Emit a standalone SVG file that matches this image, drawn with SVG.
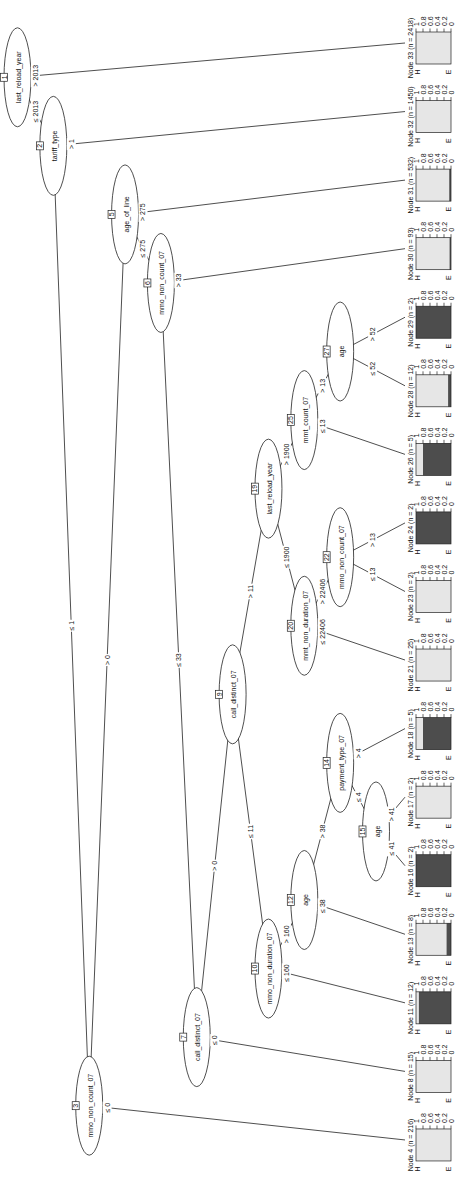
<svg xmlns="http://www.w3.org/2000/svg" xmlns:xlink="http://www.w3.org/1999/xlink" width="474" height="1185" viewBox="0 0 474 1185">
<style>
.t{font-family:"Liberation Sans",Arial,sans-serif;font-size:7px;fill:#111}
.tk{font-family:"Liberation Sans",Arial,sans-serif;font-size:7px;fill:#111}
.e{fill:#fff;stroke:#222;stroke-width:0.8}
.c line{stroke:#222;stroke-width:0.8}
.lb{fill:#fff}
.bx{fill:#fff;stroke:#222;stroke-width:0.7}
.lt{fill:#e6e6e6}
.dk{fill:#4d4d4d}
.fr{fill:none;stroke:#222;stroke-width:0.7}
</style>
<defs>
<g id="ax">
<path d="M416,-16v-3.5M423,-16v-3.5M430,-16v-3.5M437,-16v-3.5M444,-16v-3.5M451,-16v-3.5" stroke="#222" stroke-width="0.7" fill="none"/>
<text class="tk" transform="translate(418.6,-22) rotate(-90)">1</text>
<text class="tk" transform="translate(425.6,-22) rotate(-90)">0.8</text>
<text class="tk" transform="translate(432.6,-22) rotate(-90)">0.6</text>
<text class="tk" transform="translate(439.6,-22) rotate(-90)">0.4</text>
<text class="tk" transform="translate(446.6,-22) rotate(-90)">0.2</text>
<text class="tk" transform="translate(453.6,-22) rotate(-90)">0</text>
<text class="tk" transform="translate(419.5,24) rotate(-90)" text-anchor="middle">H</text>
<text class="tk" transform="translate(450.5,24) rotate(-90)" text-anchor="middle">E</text>
</g>
</defs>
<rect width="474" height="1185" fill="#fff"/>
<g id="connectors" class="c">
<line x1="17.5" y1="77.28" x2="53.35" y2="145.84"/>
<line x1="17.5" y1="77.28" x2="405" y2="43"/>
<line x1="53.35" y1="145.84" x2="89.2" y2="1105.68"/>
<line x1="53.35" y1="145.84" x2="405" y2="111.56"/>
<line x1="89.2" y1="1105.68" x2="405" y2="1139.96"/>
<line x1="89.2" y1="1105.68" x2="125.05" y2="214.4"/>
<line x1="125.05" y1="214.4" x2="160.9" y2="282.96"/>
<line x1="125.05" y1="214.4" x2="405" y2="180.12"/>
<line x1="160.9" y1="282.96" x2="196.75" y2="1037.12"/>
<line x1="160.9" y1="282.96" x2="405" y2="248.68"/>
<line x1="196.75" y1="1037.12" x2="405" y2="1071.4"/>
<line x1="196.75" y1="1037.12" x2="232.6" y2="694.32"/>
<line x1="232.6" y1="694.32" x2="268.45" y2="968.56"/>
<line x1="232.6" y1="694.32" x2="268.45" y2="488.64"/>
<line x1="268.45" y1="968.56" x2="405" y2="1002.84"/>
<line x1="268.45" y1="968.56" x2="304.3" y2="900"/>
<line x1="304.3" y1="900" x2="405" y2="934.28"/>
<line x1="304.3" y1="900" x2="340.15" y2="762.88"/>
<line x1="340.15" y1="762.88" x2="376" y2="831.44"/>
<line x1="340.15" y1="762.88" x2="405" y2="728.6"/>
<line x1="376" y1="831.44" x2="405" y2="865.72"/>
<line x1="376" y1="831.44" x2="405" y2="797.16"/>
<line x1="268.45" y1="488.64" x2="304.3" y2="625.76"/>
<line x1="268.45" y1="488.64" x2="304.3" y2="420.08"/>
<line x1="304.3" y1="625.76" x2="405" y2="660.04"/>
<line x1="304.3" y1="625.76" x2="340.15" y2="557.2"/>
<line x1="340.15" y1="557.2" x2="405" y2="591.48"/>
<line x1="340.15" y1="557.2" x2="405" y2="522.92"/>
<line x1="304.3" y1="420.08" x2="405" y2="454.36"/>
<line x1="304.3" y1="420.08" x2="340.15" y2="351.52"/>
<line x1="340.15" y1="351.52" x2="405" y2="385.8"/>
<line x1="340.15" y1="351.52" x2="405" y2="317.24"/>
</g>
<g id="n1"><ellipse class="e" cx="17.5" cy="77.28" rx="13.5" ry="49.5"/><text class="t" transform="translate(21,77.28) rotate(-90)" text-anchor="middle">last_reload_year</text><rect class="bx" x="0.5" y="73.28" width="7" height="8"/><text class="t" transform="translate(6.5,77.28) rotate(-90)" text-anchor="middle">1</text></g>
<g id="n2"><ellipse class="e" cx="53.35" cy="145.84" rx="13.5" ry="49.5"/><text class="t" transform="translate(56.85,145.84) rotate(-90)" text-anchor="middle">tariff_type</text><rect class="bx" x="36.35" y="141.84" width="7" height="8"/><text class="t" transform="translate(42.35,145.84) rotate(-90)" text-anchor="middle">2</text></g>
<g id="n3"><ellipse class="e" cx="89.2" cy="1105.68" rx="13.5" ry="49.5"/><text class="t" transform="translate(92.7,1105.68) rotate(-90)" text-anchor="middle">mmo_non_count_07</text><rect class="bx" x="72.2" y="1101.68" width="7" height="8"/><text class="t" transform="translate(78.2,1105.68) rotate(-90)" text-anchor="middle">3</text></g>
<g id="n5"><ellipse class="e" cx="125.05" cy="214.4" rx="13.5" ry="49.5"/><text class="t" transform="translate(128.55,214.4) rotate(-90)" text-anchor="middle">age_of_line</text><rect class="bx" x="108.05" y="210.4" width="7" height="8"/><text class="t" transform="translate(114.05,214.4) rotate(-90)" text-anchor="middle">5</text></g>
<g id="n6"><ellipse class="e" cx="160.9" cy="282.96" rx="13.5" ry="49.5"/><text class="t" transform="translate(164.4,282.96) rotate(-90)" text-anchor="middle">mmo_non_count_07</text><rect class="bx" x="143.9" y="278.96" width="7" height="8"/><text class="t" transform="translate(149.9,282.96) rotate(-90)" text-anchor="middle">6</text></g>
<g id="n7"><ellipse class="e" cx="196.75" cy="1037.12" rx="13.5" ry="49.5"/><text class="t" transform="translate(200.25,1037.12) rotate(-90)" text-anchor="middle">call_distinct_07</text><rect class="bx" x="179.75" y="1033.12" width="7" height="8"/><text class="t" transform="translate(185.75,1037.12) rotate(-90)" text-anchor="middle">7</text></g>
<g id="n9"><ellipse class="e" cx="232.6" cy="694.32" rx="13.5" ry="49.5"/><text class="t" transform="translate(236.1,694.32) rotate(-90)" text-anchor="middle">call_distinct_07</text><rect class="bx" x="215.6" y="690.32" width="7" height="8"/><text class="t" transform="translate(221.6,694.32) rotate(-90)" text-anchor="middle">9</text></g>
<g id="n10"><ellipse class="e" cx="268.45" cy="968.56" rx="13.5" ry="49.5"/><text class="t" transform="translate(271.95,968.56) rotate(-90)" text-anchor="middle">mmo_non_duration_07</text><rect class="bx" x="251.45" y="963.06" width="7" height="11"/><text class="t" transform="translate(257.45,968.56) rotate(-90)" text-anchor="middle">10</text></g>
<g id="n12"><ellipse class="e" cx="304.3" cy="900" rx="13.5" ry="49.5"/><text class="t" transform="translate(307.8,900) rotate(-90)" text-anchor="middle">age</text><rect class="bx" x="287.3" y="894.5" width="7" height="11"/><text class="t" transform="translate(293.3,900) rotate(-90)" text-anchor="middle">12</text></g>
<g id="n14"><ellipse class="e" cx="340.15" cy="762.88" rx="13.5" ry="49.5"/><text class="t" transform="translate(343.65,762.88) rotate(-90)" text-anchor="middle">payment_type_07</text><rect class="bx" x="323.15" y="757.38" width="7" height="11"/><text class="t" transform="translate(329.15,762.88) rotate(-90)" text-anchor="middle">14</text></g>
<g id="n15"><ellipse class="e" cx="376" cy="831.44" rx="13.5" ry="49.5"/><text class="t" transform="translate(379.5,831.44) rotate(-90)" text-anchor="middle">age</text><rect class="bx" x="359" y="825.94" width="7" height="11"/><text class="t" transform="translate(365,831.44) rotate(-90)" text-anchor="middle">15</text></g>
<g id="n19"><ellipse class="e" cx="268.45" cy="488.64" rx="13.5" ry="49.5"/><text class="t" transform="translate(271.95,488.64) rotate(-90)" text-anchor="middle">last_reload_year</text><rect class="bx" x="251.45" y="483.14" width="7" height="11"/><text class="t" transform="translate(257.45,488.64) rotate(-90)" text-anchor="middle">19</text></g>
<g id="n20"><ellipse class="e" cx="304.3" cy="625.76" rx="13.5" ry="49.5"/><text class="t" transform="translate(307.8,625.76) rotate(-90)" text-anchor="middle">mmt_non_duration_07</text><rect class="bx" x="287.3" y="620.26" width="7" height="11"/><text class="t" transform="translate(293.3,625.76) rotate(-90)" text-anchor="middle">20</text></g>
<g id="n22"><ellipse class="e" cx="340.15" cy="557.2" rx="13.5" ry="49.5"/><text class="t" transform="translate(343.65,557.2) rotate(-90)" text-anchor="middle">mmo_non_count_07</text><rect class="bx" x="323.15" y="551.7" width="7" height="11"/><text class="t" transform="translate(329.15,557.2) rotate(-90)" text-anchor="middle">22</text></g>
<g id="n25"><ellipse class="e" cx="304.3" cy="420.08" rx="13.5" ry="49.5"/><text class="t" transform="translate(307.8,420.08) rotate(-90)" text-anchor="middle">mmt_count_07</text><rect class="bx" x="287.3" y="414.58" width="7" height="11"/><text class="t" transform="translate(293.3,420.08) rotate(-90)" text-anchor="middle">25</text></g>
<g id="n27"><ellipse class="e" cx="340.15" cy="351.52" rx="13.5" ry="49.5"/><text class="t" transform="translate(343.65,351.52) rotate(-90)" text-anchor="middle">age</text><rect class="bx" x="323.15" y="346.02" width="7" height="11"/><text class="t" transform="translate(329.15,351.52) rotate(-90)" text-anchor="middle">27</text></g>
<g id="edge-labels">
<g transform="translate(35.4,111.56) rotate(-90)"><rect class="lb" x="-11.5" y="-4.5" width="23" height="9"/><text class="t" dy="0.35em" text-anchor="middle">≤ 2013</text></g>
<g transform="translate(35.4,75.7) rotate(-90)"><rect class="lb" x="-11.5" y="-4.5" width="23" height="9"/><text class="t" dy="0.35em" text-anchor="middle">&gt; 2013</text></g>
<g transform="translate(71.3,625.76) rotate(-90)"><rect class="lb" x="-6" y="-4.5" width="12" height="9"/><text class="t" dy="0.35em" text-anchor="middle">≤ 1</text></g>
<g transform="translate(71.3,144.1) rotate(-90)"><rect class="lb" x="-6" y="-4.5" width="12" height="9"/><text class="t" dy="0.35em" text-anchor="middle">&gt; 1</text></g>
<g transform="translate(107.1,1107.6) rotate(-90)"><rect class="lb" x="-6" y="-4.5" width="12" height="9"/><text class="t" dy="0.35em" text-anchor="middle">≤ 0</text></g>
<g transform="translate(107.1,660.04) rotate(-90)"><rect class="lb" x="-6" y="-4.5" width="12" height="9"/><text class="t" dy="0.35em" text-anchor="middle">&gt; 0</text></g>
<g transform="translate(143,248.68) rotate(-90)"><rect class="lb" x="-9.75" y="-4.5" width="19.5" height="9"/><text class="t" dy="0.35em" text-anchor="middle">≤ 275</text></g>
<g transform="translate(143,212.2) rotate(-90)"><rect class="lb" x="-9.75" y="-4.5" width="19.5" height="9"/><text class="t" dy="0.35em" text-anchor="middle">&gt; 275</text></g>
<g transform="translate(178.8,660.04) rotate(-90)"><rect class="lb" x="-7.8" y="-4.5" width="15.6" height="9"/><text class="t" dy="0.35em" text-anchor="middle">≤ 33</text></g>
<g transform="translate(178.8,280.45) rotate(-90)"><rect class="lb" x="-7.8" y="-4.5" width="15.6" height="9"/><text class="t" dy="0.35em" text-anchor="middle">&gt; 33</text></g>
<g transform="translate(214.7,1040.1) rotate(-90)"><rect class="lb" x="-6" y="-4.5" width="12" height="9"/><text class="t" dy="0.35em" text-anchor="middle">≤ 0</text></g>
<g transform="translate(214.7,865.72) rotate(-90)"><rect class="lb" x="-6" y="-4.5" width="12" height="9"/><text class="t" dy="0.35em" text-anchor="middle">&gt; 0</text></g>
<g transform="translate(250.5,831.44) rotate(-90)"><rect class="lb" x="-7.8" y="-4.5" width="15.6" height="9"/><text class="t" dy="0.35em" text-anchor="middle">≤ 11</text></g>
<g transform="translate(250.5,591.48) rotate(-90)"><rect class="lb" x="-7.8" y="-4.5" width="15.6" height="9"/><text class="t" dy="0.35em" text-anchor="middle">&gt; 11</text></g>
<g transform="translate(286.4,973.07) rotate(-90)"><rect class="lb" x="-9.75" y="-4.5" width="19.5" height="9"/><text class="t" dy="0.35em" text-anchor="middle">≤ 160</text></g>
<g transform="translate(286.4,934.28) rotate(-90)"><rect class="lb" x="-9.75" y="-4.5" width="19.5" height="9"/><text class="t" dy="0.35em" text-anchor="middle">&gt; 160</text></g>
<g transform="translate(286.4,557.2) rotate(-90)"><rect class="lb" x="-11.5" y="-4.5" width="23" height="9"/><text class="t" dy="0.35em" text-anchor="middle">≤ 1900</text></g>
<g transform="translate(286.4,454.36) rotate(-90)"><rect class="lb" x="-11.5" y="-4.5" width="23" height="9"/><text class="t" dy="0.35em" text-anchor="middle">&gt; 1900</text></g>
<g transform="translate(322.2,906.1) rotate(-90)"><rect class="lb" x="-7.8" y="-4.5" width="15.6" height="9"/><text class="t" dy="0.35em" text-anchor="middle">≤ 38</text></g>
<g transform="translate(322.2,831.44) rotate(-90)"><rect class="lb" x="-7.8" y="-4.5" width="15.6" height="9"/><text class="t" dy="0.35em" text-anchor="middle">&gt; 38</text></g>
<g transform="translate(322.2,631.85) rotate(-90)"><rect class="lb" x="-13.65" y="-4.5" width="27.3" height="9"/><text class="t" dy="0.35em" text-anchor="middle">≤ 22406</text></g>
<g transform="translate(322.2,591.48) rotate(-90)"><rect class="lb" x="-13.65" y="-4.5" width="27.3" height="9"/><text class="t" dy="0.35em" text-anchor="middle">&gt; 22406</text></g>
<g transform="translate(322.2,426.17) rotate(-90)"><rect class="lb" x="-7.8" y="-4.5" width="15.6" height="9"/><text class="t" dy="0.35em" text-anchor="middle">≤ 13</text></g>
<g transform="translate(322.2,385.8) rotate(-90)"><rect class="lb" x="-7.8" y="-4.5" width="15.6" height="9"/><text class="t" dy="0.35em" text-anchor="middle">&gt; 13</text></g>
<g transform="translate(358.1,797.16) rotate(-90)"><rect class="lb" x="-6" y="-4.5" width="12" height="9"/><text class="t" dy="0.35em" text-anchor="middle">≤ 4</text></g>
<g transform="translate(358.1,753.4) rotate(-90)"><rect class="lb" x="-6" y="-4.5" width="12" height="9"/><text class="t" dy="0.35em" text-anchor="middle">&gt; 4</text></g>
<g transform="translate(372.6,574.34) rotate(-90)"><rect class="lb" x="-7.8" y="-4.5" width="15.6" height="9"/><text class="t" dy="0.35em" text-anchor="middle">≤ 13</text></g>
<g transform="translate(372.6,540.06) rotate(-90)"><rect class="lb" x="-7.8" y="-4.5" width="15.6" height="9"/><text class="t" dy="0.35em" text-anchor="middle">&gt; 13</text></g>
<g transform="translate(372.6,368.66) rotate(-90)"><rect class="lb" x="-7.8" y="-4.5" width="15.6" height="9"/><text class="t" dy="0.35em" text-anchor="middle">≤ 52</text></g>
<g transform="translate(372.6,334.38) rotate(-90)"><rect class="lb" x="-7.8" y="-4.5" width="15.6" height="9"/><text class="t" dy="0.35em" text-anchor="middle">&gt; 52</text></g>
<g transform="translate(391.5,848.6) rotate(-90)"><rect class="lb" x="-7.8" y="-4.5" width="15.6" height="9"/><text class="t" dy="0.35em" text-anchor="middle">≤ 41</text></g>
<g transform="translate(391.5,814.3) rotate(-90)"><rect class="lb" x="-7.8" y="-4.5" width="15.6" height="9"/><text class="t" dy="0.35em" text-anchor="middle">&gt; 41</text></g>
</g>
<g id="n33"><text class="t" transform="translate(413,48) rotate(-90)" text-anchor="middle">Node 33 (n = 2418)</text><rect class="lt" x="416" y="32" width="35" height="32"/><rect class="fr" x="416" y="32" width="35" height="32"/><use xlink:href="#ax" y="48"/></g>
<g id="n32"><text class="t" transform="translate(413,116.56) rotate(-90)" text-anchor="middle">Node 32 (n = 1450)</text><rect class="lt" x="416" y="100.56" width="35" height="32"/><rect class="fr" x="416" y="100.56" width="35" height="32"/><use xlink:href="#ax" y="116.56"/></g>
<g id="n31"><text class="t" transform="translate(413,185.12) rotate(-90)" text-anchor="middle">Node 31 (n = 532)</text><rect class="lt" x="416" y="169.12" width="35" height="32"/><rect class="dk" x="449.25" y="169.12" width="1.75" height="32"/><rect class="fr" x="416" y="169.12" width="35" height="32"/><use xlink:href="#ax" y="185.12"/></g>
<g id="n30"><text class="t" transform="translate(413,253.68) rotate(-90)" text-anchor="middle">Node 30 (n = 93)</text><rect class="lt" x="416" y="237.68" width="35" height="32"/><rect class="dk" x="449.6" y="237.68" width="1.4" height="32"/><rect class="fr" x="416" y="237.68" width="35" height="32"/><use xlink:href="#ax" y="253.68"/></g>
<g id="n29"><text class="t" transform="translate(413,322.24) rotate(-90)" text-anchor="middle">Node 29 (n = 2)</text><rect class="dk" x="416" y="306.24" width="35" height="32"/><rect class="fr" x="416" y="306.24" width="35" height="32"/><use xlink:href="#ax" y="322.24"/></g>
<g id="n28"><text class="t" transform="translate(413,390.8) rotate(-90)" text-anchor="middle">Node 28 (n = 12)</text><rect class="lt" x="416" y="374.8" width="35" height="32"/><rect class="dk" x="448.1" y="374.8" width="2.9" height="32"/><rect class="fr" x="416" y="374.8" width="35" height="32"/><use xlink:href="#ax" y="390.8"/></g>
<g id="n26"><text class="t" transform="translate(413,459.36) rotate(-90)" text-anchor="middle">Node 26 (n = 5)</text><rect class="lt" x="416" y="443.36" width="35" height="32"/><rect class="dk" x="423" y="443.36" width="28" height="32"/><rect class="fr" x="416" y="443.36" width="35" height="32"/><use xlink:href="#ax" y="459.36"/></g>
<g id="n24"><text class="t" transform="translate(413,527.92) rotate(-90)" text-anchor="middle">Node 24 (n = 2)</text><rect class="dk" x="416" y="511.92" width="35" height="32"/><rect class="fr" x="416" y="511.92" width="35" height="32"/><use xlink:href="#ax" y="527.92"/></g>
<g id="n23"><text class="t" transform="translate(413,596.48) rotate(-90)" text-anchor="middle">Node 23 (n = 2)</text><rect class="lt" x="416" y="580.48" width="35" height="32"/><rect class="fr" x="416" y="580.48" width="35" height="32"/><use xlink:href="#ax" y="596.48"/></g>
<g id="n21"><text class="t" transform="translate(413,665.04) rotate(-90)" text-anchor="middle">Node 21 (n = 25)</text><rect class="lt" x="416" y="649.04" width="35" height="32"/><rect class="fr" x="416" y="649.04" width="35" height="32"/><use xlink:href="#ax" y="665.04"/></g>
<g id="n18"><text class="t" transform="translate(413,733.6) rotate(-90)" text-anchor="middle">Node 18 (n = 5)</text><rect class="lt" x="416" y="717.6" width="35" height="32"/><rect class="dk" x="423" y="717.6" width="28" height="32"/><rect class="fr" x="416" y="717.6" width="35" height="32"/><use xlink:href="#ax" y="733.6"/></g>
<g id="n17"><text class="t" transform="translate(413,802.16) rotate(-90)" text-anchor="middle">Node 17 (n = 2)</text><rect class="lt" x="416" y="786.16" width="35" height="32"/><rect class="fr" x="416" y="786.16" width="35" height="32"/><use xlink:href="#ax" y="802.16"/></g>
<g id="n16"><text class="t" transform="translate(413,870.72) rotate(-90)" text-anchor="middle">Node 16 (n = 2)</text><rect class="dk" x="416" y="854.72" width="35" height="32"/><rect class="fr" x="416" y="854.72" width="35" height="32"/><use xlink:href="#ax" y="870.72"/></g>
<g id="n13"><text class="t" transform="translate(413,939.28) rotate(-90)" text-anchor="middle">Node 13 (n = 8)</text><rect class="lt" x="416" y="923.28" width="35" height="32"/><rect class="dk" x="446.6" y="923.28" width="4.4" height="32"/><rect class="fr" x="416" y="923.28" width="35" height="32"/><use xlink:href="#ax" y="939.28"/></g>
<g id="n11"><text class="t" transform="translate(413,1007.84) rotate(-90)" text-anchor="middle">Node 11 (n = 12)</text><rect class="lt" x="416" y="991.84" width="35" height="32"/><rect class="dk" x="418.9" y="991.84" width="32.1" height="32"/><rect class="fr" x="416" y="991.84" width="35" height="32"/><use xlink:href="#ax" y="1007.84"/></g>
<g id="n8"><text class="t" transform="translate(413,1076.4) rotate(-90)" text-anchor="middle">Node 8 (n = 15)</text><rect class="lt" x="416" y="1060.4" width="35" height="32"/><rect class="fr" x="416" y="1060.4" width="35" height="32"/><use xlink:href="#ax" y="1076.4"/></g>
<g id="n4"><text class="t" transform="translate(413,1144.96) rotate(-90)" text-anchor="middle">Node 4 (n = 216)</text><rect class="lt" x="416" y="1128.96" width="35" height="32"/><rect class="fr" x="416" y="1128.96" width="35" height="32"/><use xlink:href="#ax" y="1144.96"/></g>
</svg>
